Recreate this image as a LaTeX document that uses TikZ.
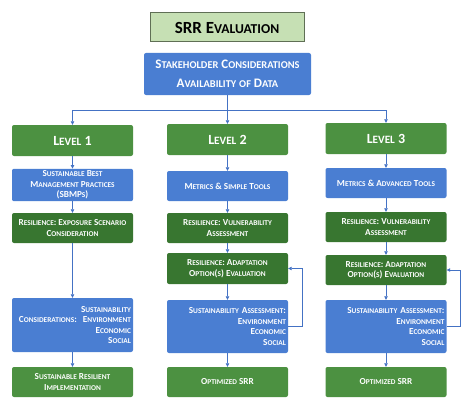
\documentclass[tikz,border=0pt]{standalone}
\usepackage{fontspec}
\setmainfont{Carlito}
\usetikzlibrary{arrows.meta}
\definecolor{lvgreen}{HTML}{4C9141}
\definecolor{dkgreen}{HTML}{387630}
\definecolor{bxblue}{HTML}{4A7ED2}
\definecolor{lnblue}{HTML}{4472C4}
\definecolor{ttfill}{HTML}{C6E0B4}
\definecolor{ttdraw}{HTML}{5F6F55}
\makeatletter
\newcommand\fscsmall[1]{{\fontsize{\fpeval{0.8*\f@size}}{\f@baselineskip}\selectfont\MakeUppercase{#1}}}
\makeatother
\ExplSyntaxOn
\tl_new:N \l_fsc_tl
\NewDocumentCommand\fsc{m}{
  \tl_set:Nn \l_fsc_tl {#1}
  \regex_replace_all:nnN { ([a-z]+) } { \c{fscsmall}\cB\{ \1 \cE\} } \l_fsc_tl
  \tl_use:N \l_fsc_tl
}
\ExplSyntaxOff
\begin{document}
\begin{tikzpicture}[x=1pt,y=-1pt,
  bx/.style={rectangle,rounded corners=2pt,minimum width=121pt,text=white,align=center,
    inner sep=2pt,font=\fontsize{9.2}{10.5}\selectfont\bfseries},
  lvbox/.style={bx,fill=lvgreen,font=\fontsize{14}{16}\selectfont\bfseries},
  grbox/.style={bx,fill=lvgreen},
  dgbox/.style={bx,fill=dkgreen},
  blbox/.style={bx,fill=bxblue},
  rbox/.style={blbox,align=right,text width=117pt},
  arr/.style={draw=lnblue,line width=0.7pt,-{Triangle[length=3.5pt,width=3.5pt]}}
]
\useasboundingbox (0,0) rectangle (474,412);
\node[rectangle,fill=ttfill,draw=ttdraw,line width=1pt,minimum width=154pt,minimum height=29pt,
  font=\fontsize{17}{19}\selectfont\bfseries] (title) at (227,27.5) {\fsc{SRR Evaluation}};
\node[blbox,minimum width=167pt,minimum height=42pt,font=\fontsize{13}{19}\selectfont\bfseries] (stake) at (227.5,74)
  {\fsc{Stakeholder Considerations\\Availability of Data}};

\node[lvbox,minimum height=31pt] (L1) at (72.5,140.5) {\fsc{Level 1}};
\node[lvbox,minimum height=31pt] (L2) at (227.5,139.5) {\fsc{Level 2}};
\node[lvbox,minimum height=31pt] (L3) at (386,138.5) {\fsc{Level 3}};

\node[blbox,minimum height=30pt] (a1) at (72.5,185) {\fsc{Sustainable Best\\Management Practices\\(SBMPs)}};
\node[blbox,minimum height=30pt] (a2) at (227.5,186) {\fsc{Metrics \& Simple Tools}};
\node[blbox,minimum height=30pt] (a3) at (386,183) {\fsc{Metrics \& Advanced Tools}};

\node[dgbox,minimum height=30pt] (b1) at (72.5,228) {\fsc{Resilience: Exposure Scenario\\Consideration}};
\node[dgbox,minimum height=30pt] (b2) at (227.5,228) {\fsc{Resilience:\ Vulnerability\\Assessment}};
\node[dgbox,minimum height=30pt] (b3) at (386,227) {\fsc{Resilience:\ Vulnerability\\Assessment}};

\node[dgbox,minimum height=31pt] (c2) at (227.5,268.5) {\fsc{Resilience:\ Adaptation\\Option(s)\ Evaluation}};
\node[dgbox,minimum height=30pt] (c3) at (386,270) {\fsc{Resilience:\ Adaptation\\Option(s)\ Evaluation}};

\node[rbox,minimum height=54pt] (d1) at (72.5,325) {\fsc{Sustainability\\Considerations:\ \ Environment\\Economic\\Social}};
\node[rbox,minimum height=53pt] (d2) at (227.5,326.5) {\fsc{Sustainability Assessment:\\Environment\\Economic\\Social}};
\node[rbox,minimum height=53pt] (d3) at (386,326.5) {\fsc{Sustainability Assessment:\\Environment\\Economic\\Social}};

\node[grbox,minimum height=30pt] (e1) at (72.5,382) {\fsc{Sustainable Resilient\\Implementation}};
\node[grbox,minimum height=30pt] (e2) at (227.5,382) {\fsc{Optimized SRR}};
\node[grbox,minimum height=30pt] (e3) at (386,382) {\fsc{Optimized SRR}};

\coordinate (bus) at (227.5,110);
\draw[arr] (stake.south) -- (L2.north);
\draw[arr] (stake.south) |- (bus) -| (L1.north);
\draw[arr] (bus) -| (L3.north);

\draw[arr] (L1) -- (a1);
\draw[arr] (a1) -- (b1);
\draw[arr] (b1) -- (d1);
\draw[arr] (d1) -- (e1);

\draw[arr] (L2) -- (a2);
\draw[arr] (a2) -- (b2);
\draw[arr] (b2) -- (c2);
\draw[arr] (c2) -- (d2);
\draw[arr] (d2) -- (e2);
\draw[arr] (d2.east) -- ++(14,0) |- (c2.east);

\draw[arr] (L3) -- (a3);
\draw[arr] (a3) -- (b3);
\draw[arr] (b3) -- (c3);
\draw[arr] (c3) -- (d3);
\draw[arr] (d3) -- (e3);
\draw[arr] (d3.east) -- ++(14,0) |- (c3.east);
\end{tikzpicture}
\end{document}
